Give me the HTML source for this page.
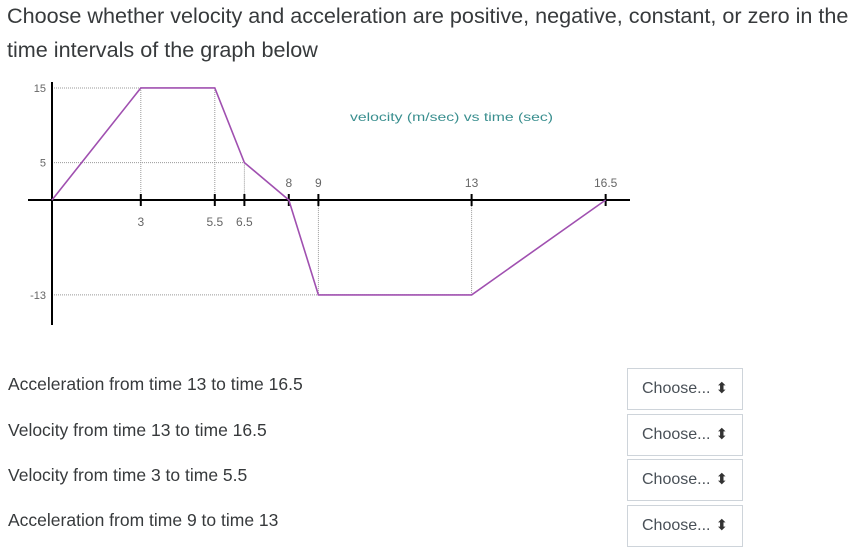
<!DOCTYPE html>
<html><head><meta charset="utf-8">
<style>
body{margin:0;width:860px;height:552px;background:#fff;font-family:"Liberation Sans",sans-serif;color:#373a3c;overflow:hidden;position:relative}
.q{position:absolute;left:7px;top:-1px;font-size:21.6px;line-height:34px;width:853px}
.lbl{position:absolute;left:8px;font-size:17.5px}
.sel{position:absolute;left:627px;width:116px;height:42px;border:1px solid #ced4da;box-sizing:border-box;font-size:16px;line-height:40px;padding-left:14px;color:#495057}
.sel span{font-size:15px;margin-left:5px;color:#333}
svg{position:absolute;left:0;top:0}
</style></head><body>
<div class="q">Choose whether velocity and acceleration are positive, negative, constant, or zero in the time intervals of the graph below</div>
<svg width="860" height="552" id="chart"></svg>
<div class="lbl" style="top:374px">Acceleration from time 13 to time 16.5</div>
<div class="lbl" style="top:420px">Velocity from time 13 to time 16.5</div>
<div class="lbl" style="top:465px">Velocity from time 3 to time 5.5</div>
<div class="lbl" style="top:510px">Acceleration from time 9 to time 13</div>
<div class="sel" style="top:368px">Choose...<span>⬍</span></div>
<div class="sel" style="top:414px">Choose...<span>⬍</span></div>
<div class="sel" style="top:459px">Choose...<span>⬍</span></div>
<div class="sel" style="top:505px">Choose...<span>⬍</span></div>
<script>
const times=[0,3,5.5,6.5,8,9,13,16.5];
const velocities=[0,15,15,5,0,-13,-13,0];
const yTicks=[15,5,-13];
const xTicksBelow=["3","5.5","6.5"];
const xTicksAbove=["8","9","13","16.5"];
const NS="http://www.w3.org/2000/svg";
const svg=document.getElementById('chart');
function X(t){return t<=9?52+t*29.6:52+9*29.6+(t-9)*38.3;}
function Y(v){return v>=0?200-v*7.47:200-v*7.3;}
function mk(tag,attrs){const e=document.createElementNS(NS,tag);for(const k in attrs)e.setAttribute(k,attrs[k]);svg.appendChild(e);return e;}
yTicks.forEach(v=>{
  let maxT=0;times.forEach((t,i)=>{if(velocities[i]===v)maxT=Math.max(maxT,t);});
  const g=mk('line',{x1:52,x2:X(maxT),y1:Y(v),y2:Y(v),stroke:'#999','stroke-dasharray':'1,1','stroke-width':1});
  
  
  const tx=mk('text',{x:46,y:Y(v)+4,'text-anchor':'end','font-size':11,fill:'#666'});
  tx.textContent=v;
  
  
});
times.forEach((t,i)=>{
  if(t===0||velocities[i]===0)return;
  const g=mk('line',{x1:X(t),x2:X(t),y1:Y(velocities[i]),y2:Y(0),stroke:'#999','stroke-dasharray':'1,1','stroke-width':1});
  
  
});
let a=mk('line',{x1:28,x2:630,y1:Y(0),y2:Y(0),stroke:'#000','stroke-width':2});


a=mk('line',{x1:52,x2:52,y1:82,y2:325,stroke:'#000','stroke-width':2});


xTicksBelow.concat(xTicksAbove).forEach(s=>{
  const t=parseFloat(s);
  const tk=mk('line',{x1:X(t),x2:X(t),y1:Y(0)-6,y2:Y(0)+6,stroke:'#000','stroke-width':2});
  
  
  const below=xTicksBelow.includes(s);
  const tx=mk('text',{x:X(t),y:below?Y(0)+26:Y(0)-13,'text-anchor':'middle','font-size':12,fill:'#666'});
  tx.textContent=s;
  
  
});
const pts=times.map((t,i)=>X(t)+','+Y(velocities[i])).join(' ');
const pl=mk('polyline',{points:pts,fill:'none',stroke:'#a050b0','stroke-width':1.6});


const ti=mk('text',{x:350,y:121,'font-size':12,fill:'#3a8f8f',textLength:203,lengthAdjust:'spacingAndGlyphs'});
ti.textContent='velocity (m/sec) vs time (sec)';


</script>
</body></html>
